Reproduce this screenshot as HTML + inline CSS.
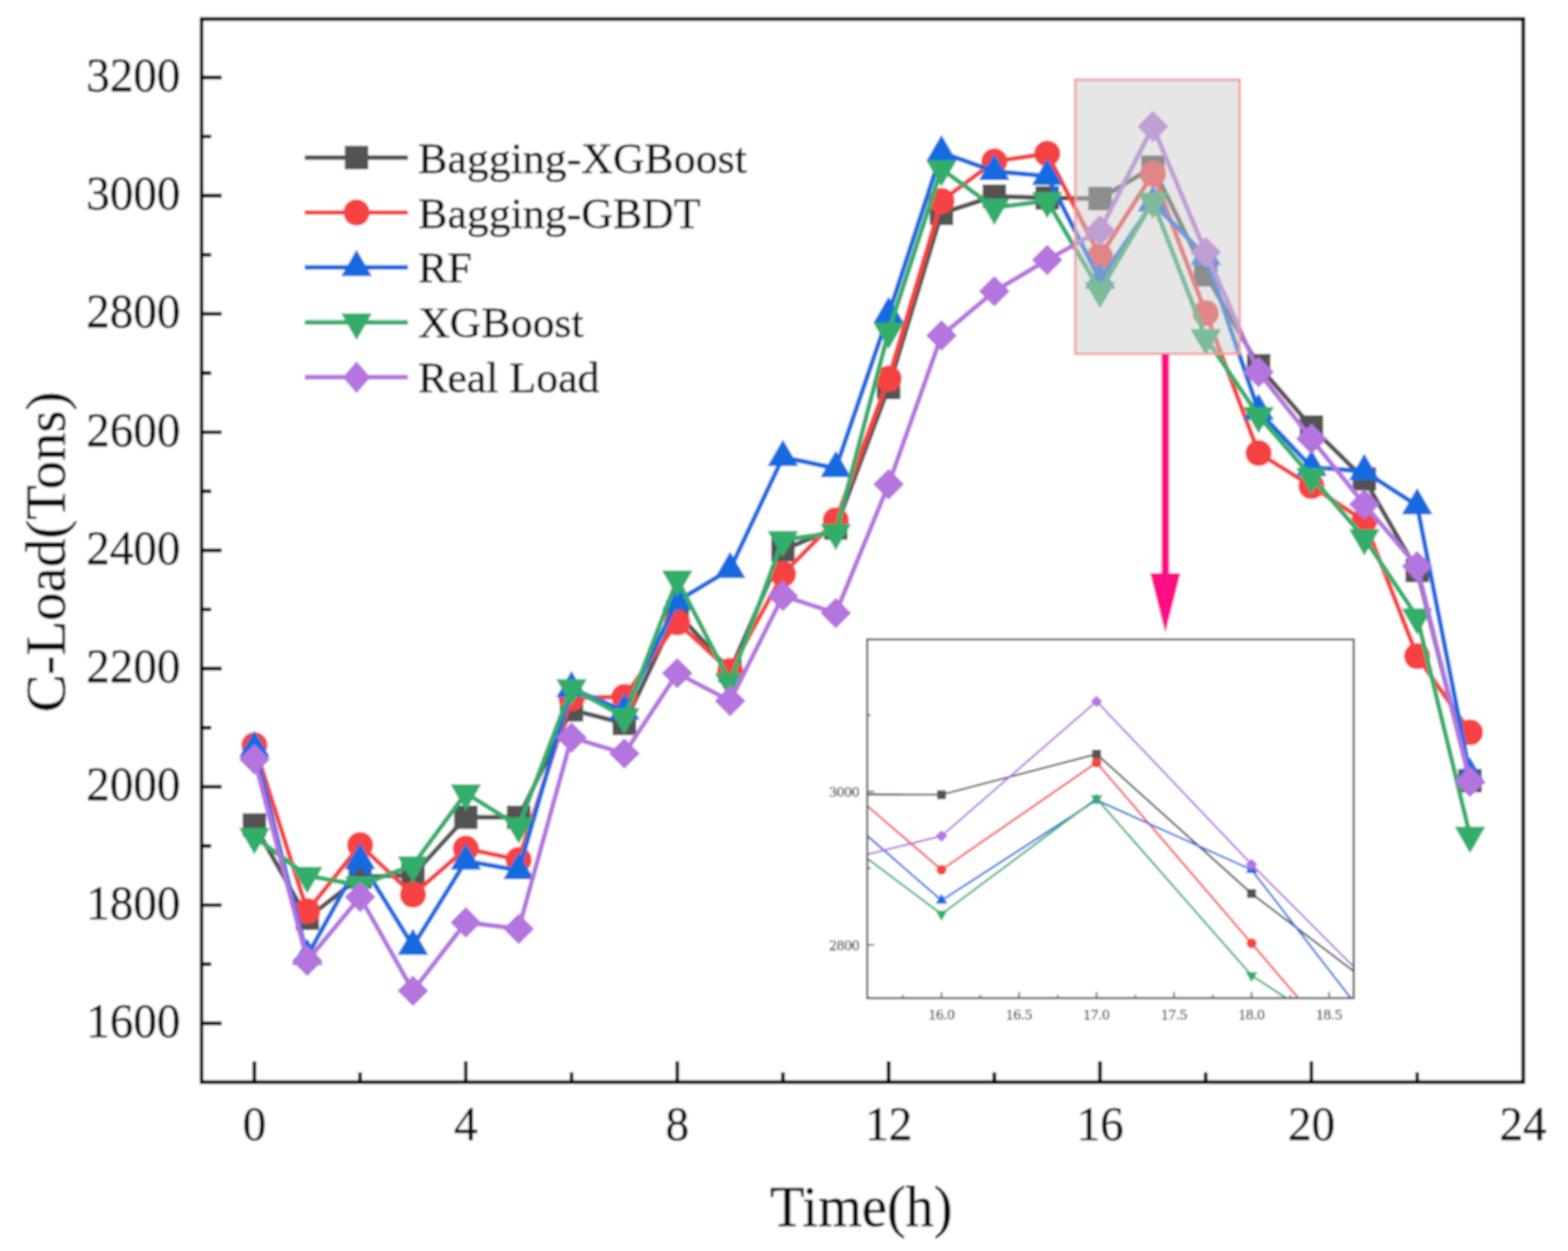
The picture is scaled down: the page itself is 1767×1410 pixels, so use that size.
<!DOCTYPE html>
<html><head><meta charset="utf-8"><title>C-Load chart</title>
<style>
html,body{margin:0;padding:0;background:#fff;}
svg{display:block;}
text{font-family:"Liberation Serif","Times New Roman",serif;fill:#0a0a0a;stroke:#0a0a0a;stroke-width:0.5px;}
</style></head><body>
<svg width="1767" height="1410" viewBox="0 0 1767 1410">
<defs>
<filter id="soft" x="0" y="0" width="100%" height="100%" filterUnits="userSpaceOnUse"><feGaussianBlur stdDeviation="0.9"/></filter>
<clipPath id="mainclip"><rect x="227.1" y="20.7" width="1489.5" height="1199.3"/></clipPath>
<clipPath id="insclip"><rect x="977.2" y="720.8" width="548.3" height="404.20000000000005"/></clipPath>
</defs>
<rect x="0" y="0" width="1767" height="1410" fill="#fff"/>
<g filter="url(#soft)">
<rect x="0" y="0" width="1767" height="1410" fill="#fff"/>

<g clip-path="url(#mainclip)">
<polyline points="286.70,929.83 346.26,1034.97 405.82,988.39 465.38,986.39 524.94,921.18 584.50,921.18 644.06,800.07 703.62,815.37 763.18,690.27 822.74,756.15 882.30,619.73 941.86,595.11 1001.42,436.73 1060.98,240.42 1120.54,221.12 1180.10,223.12 1239.66,223.79 1299.22,188.52 1358.78,309.63 1418.34,412.11 1477.90,481.32 1537.46,539.88 1597.02,643.02 1656.58,879.92" fill="none" stroke="#525252" stroke-width="5.2" stroke-linejoin="miter" stroke-miterlimit="3"/>
<rect x="273.50" y="916.63" width="26.40" height="26.40" fill="#525252"/>
<rect x="333.06" y="1021.77" width="26.40" height="26.40" fill="#525252"/>
<rect x="392.62" y="975.19" width="26.40" height="26.40" fill="#525252"/>
<rect x="452.18" y="973.19" width="26.40" height="26.40" fill="#525252"/>
<rect x="511.74" y="907.98" width="26.40" height="26.40" fill="#525252"/>
<rect x="571.30" y="907.98" width="26.40" height="26.40" fill="#525252"/>
<rect x="630.86" y="786.87" width="26.40" height="26.40" fill="#525252"/>
<rect x="690.42" y="802.17" width="26.40" height="26.40" fill="#525252"/>
<rect x="749.98" y="677.07" width="26.40" height="26.40" fill="#525252"/>
<rect x="809.54" y="742.95" width="26.40" height="26.40" fill="#525252"/>
<rect x="869.10" y="606.53" width="26.40" height="26.40" fill="#525252"/>
<rect x="928.66" y="581.91" width="26.40" height="26.40" fill="#525252"/>
<rect x="988.22" y="423.53" width="26.40" height="26.40" fill="#525252"/>
<rect x="1047.78" y="227.22" width="26.40" height="26.40" fill="#525252"/>
<rect x="1107.34" y="207.93" width="26.40" height="26.40" fill="#525252"/>
<rect x="1166.90" y="209.92" width="26.40" height="26.40" fill="#525252"/>
<rect x="1226.46" y="210.59" width="26.40" height="26.40" fill="#525252"/>
<rect x="1286.02" y="175.32" width="26.40" height="26.40" fill="#525252"/>
<rect x="1345.58" y="296.43" width="26.40" height="26.40" fill="#525252"/>
<rect x="1405.14" y="398.91" width="26.40" height="26.40" fill="#525252"/>
<rect x="1464.70" y="468.12" width="26.40" height="26.40" fill="#525252"/>
<rect x="1524.26" y="526.68" width="26.40" height="26.40" fill="#525252"/>
<rect x="1583.82" y="629.82" width="26.40" height="26.40" fill="#525252"/>
<rect x="1643.38" y="866.72" width="26.40" height="26.40" fill="#525252"/>
<polyline points="286.70,839.99 346.26,1026.98 405.82,952.45 465.38,1008.35 524.94,956.45 584.50,969.09 644.06,786.76 703.62,785.43 763.18,701.58 822.74,756.15 882.30,647.01 941.86,586.46 1001.42,426.75 1060.98,226.45 1120.54,181.86 1180.10,173.21 1239.66,289.00 1299.22,195.84 1358.78,352.88 1418.34,510.60 1477.90,547.86 1537.46,587.12 1597.02,739.51 1656.58,825.35" fill="none" stroke="#f64343" stroke-width="5.2" stroke-linejoin="miter" stroke-miterlimit="3"/>
<circle cx="286.70" cy="839.99" r="14.70" fill="#f64343"/>
<circle cx="346.26" cy="1026.98" r="14.70" fill="#f64343"/>
<circle cx="405.82" cy="952.45" r="14.70" fill="#f64343"/>
<circle cx="465.38" cy="1008.35" r="14.70" fill="#f64343"/>
<circle cx="524.94" cy="956.45" r="14.70" fill="#f64343"/>
<circle cx="584.50" cy="969.09" r="14.70" fill="#f64343"/>
<circle cx="644.06" cy="786.76" r="14.70" fill="#f64343"/>
<circle cx="703.62" cy="785.43" r="14.70" fill="#f64343"/>
<circle cx="763.18" cy="701.58" r="14.70" fill="#f64343"/>
<circle cx="822.74" cy="756.15" r="14.70" fill="#f64343"/>
<circle cx="882.30" cy="647.01" r="14.70" fill="#f64343"/>
<circle cx="941.86" cy="586.46" r="14.70" fill="#f64343"/>
<circle cx="1001.42" cy="426.75" r="14.70" fill="#f64343"/>
<circle cx="1060.98" cy="226.45" r="14.70" fill="#f64343"/>
<circle cx="1120.54" cy="181.86" r="14.70" fill="#f64343"/>
<circle cx="1180.10" cy="173.21" r="14.70" fill="#f64343"/>
<circle cx="1239.66" cy="289.00" r="14.70" fill="#f64343"/>
<circle cx="1299.22" cy="195.84" r="14.70" fill="#f64343"/>
<circle cx="1358.78" cy="352.88" r="14.70" fill="#f64343"/>
<circle cx="1418.34" cy="510.60" r="14.70" fill="#f64343"/>
<circle cx="1477.90" cy="547.86" r="14.70" fill="#f64343"/>
<circle cx="1537.46" cy="587.12" r="14.70" fill="#f64343"/>
<circle cx="1597.02" cy="739.51" r="14.70" fill="#f64343"/>
<circle cx="1656.58" cy="825.35" r="14.70" fill="#f64343"/>
<polyline points="286.70,843.32 346.26,1077.56 405.82,969.76 465.38,1066.25 524.94,970.42 584.50,981.07 644.06,776.11 703.62,801.40 763.18,677.62 822.74,641.69 882.30,515.25 941.86,527.90 1001.42,354.21 1060.98,171.88 1120.54,193.18 1180.10,198.50 1239.66,315.62 1299.22,228.44 1358.78,289.00 1418.34,463.35 1477.90,526.57 1537.46,531.22 1597.02,569.82 1656.58,873.27" fill="none" stroke="#186be0" stroke-width="5.2" stroke-linejoin="miter" stroke-miterlimit="3"/>
<polygon points="286.70,823.45 303.95,853.25 269.45,853.25" fill="#186be0"/>
<polygon points="346.26,1057.69 363.51,1087.49 329.01,1087.49" fill="#186be0"/>
<polygon points="405.82,949.89 423.07,979.69 388.57,979.69" fill="#186be0"/>
<polygon points="465.38,1046.38 482.63,1076.18 448.13,1076.18" fill="#186be0"/>
<polygon points="524.94,950.56 542.19,980.36 507.69,980.36" fill="#186be0"/>
<polygon points="584.50,961.20 601.75,991.00 567.25,991.00" fill="#186be0"/>
<polygon points="644.06,756.24 661.31,786.04 626.81,786.04" fill="#186be0"/>
<polygon points="703.62,781.53 720.87,811.33 686.37,811.33" fill="#186be0"/>
<polygon points="763.18,657.76 780.43,687.56 745.93,687.56" fill="#186be0"/>
<polygon points="822.74,621.82 839.99,651.62 805.49,651.62" fill="#186be0"/>
<polygon points="882.30,495.39 899.55,525.19 865.05,525.19" fill="#186be0"/>
<polygon points="941.86,508.03 959.11,537.83 924.61,537.83" fill="#186be0"/>
<polygon points="1001.42,334.35 1018.67,364.15 984.17,364.15" fill="#186be0"/>
<polygon points="1060.98,152.02 1078.23,181.82 1043.73,181.82" fill="#186be0"/>
<polygon points="1120.54,173.31 1137.79,203.11 1103.29,203.11" fill="#186be0"/>
<polygon points="1180.10,178.63 1197.35,208.43 1162.85,208.43" fill="#186be0"/>
<polygon points="1239.66,295.75 1256.91,325.55 1222.41,325.55" fill="#186be0"/>
<polygon points="1299.22,208.58 1316.47,238.38 1281.97,238.38" fill="#186be0"/>
<polygon points="1358.78,269.13 1376.03,298.93 1341.53,298.93" fill="#186be0"/>
<polygon points="1418.34,443.48 1435.59,473.28 1401.09,473.28" fill="#186be0"/>
<polygon points="1477.90,506.70 1495.15,536.50 1460.65,536.50" fill="#186be0"/>
<polygon points="1537.46,511.36 1554.71,541.16 1520.21,541.16" fill="#186be0"/>
<polygon points="1597.02,549.95 1614.27,579.75 1579.77,579.75" fill="#186be0"/>
<polygon points="1656.58,853.40 1673.83,883.20 1639.33,883.20" fill="#186be0"/>
<polyline points="286.70,943.14 346.26,987.06 405.82,997.71 465.38,975.08 524.94,893.89 584.50,931.16 644.06,775.44 703.62,808.05 763.18,653.00 822.74,768.79 882.30,608.42 941.86,600.43 1001.42,373.51 1060.98,190.51 1120.54,233.77 1180.10,226.45 1239.66,327.60 1299.22,227.11 1358.78,380.83 1418.34,468.67 1477.90,537.21 1537.46,606.42 1597.02,695.59 1656.58,941.81" fill="none" stroke="#30ad6b" stroke-width="5.2" stroke-linejoin="miter" stroke-miterlimit="3"/>
<polygon points="269.45,933.20 303.95,933.20 286.70,963.00" fill="#30ad6b"/>
<polygon points="329.01,977.12 363.51,977.12 346.26,1006.92" fill="#30ad6b"/>
<polygon points="388.57,987.77 423.07,987.77 405.82,1017.57" fill="#30ad6b"/>
<polygon points="448.13,965.15 482.63,965.15 465.38,994.95" fill="#30ad6b"/>
<polygon points="507.69,883.96 542.19,883.96 524.94,913.76" fill="#30ad6b"/>
<polygon points="567.25,921.23 601.75,921.23 584.50,951.03" fill="#30ad6b"/>
<polygon points="626.81,765.51 661.31,765.51 644.06,795.31" fill="#30ad6b"/>
<polygon points="686.37,798.12 720.87,798.12 703.62,827.92" fill="#30ad6b"/>
<polygon points="745.93,643.07 780.43,643.07 763.18,672.87" fill="#30ad6b"/>
<polygon points="805.49,758.86 839.99,758.86 822.74,788.66" fill="#30ad6b"/>
<polygon points="865.05,598.48 899.55,598.48 882.30,628.28" fill="#30ad6b"/>
<polygon points="924.61,590.50 959.11,590.50 941.86,620.30" fill="#30ad6b"/>
<polygon points="984.17,363.58 1018.67,363.58 1001.42,393.38" fill="#30ad6b"/>
<polygon points="1043.73,180.58 1078.23,180.58 1060.98,210.38" fill="#30ad6b"/>
<polygon points="1103.29,223.84 1137.79,223.84 1120.54,253.64" fill="#30ad6b"/>
<polygon points="1162.85,216.52 1197.35,216.52 1180.10,246.32" fill="#30ad6b"/>
<polygon points="1222.41,317.66 1256.91,317.66 1239.66,347.46" fill="#30ad6b"/>
<polygon points="1281.97,217.18 1316.47,217.18 1299.22,246.98" fill="#30ad6b"/>
<polygon points="1341.53,370.90 1376.03,370.90 1358.78,400.70" fill="#30ad6b"/>
<polygon points="1401.09,458.74 1435.59,458.74 1418.34,488.54" fill="#30ad6b"/>
<polygon points="1460.65,527.28 1495.15,527.28 1477.90,557.08" fill="#30ad6b"/>
<polygon points="1520.21,596.49 1554.71,596.49 1537.46,626.29" fill="#30ad6b"/>
<polygon points="1579.77,685.66 1614.27,685.66 1597.02,715.46" fill="#30ad6b"/>
<polygon points="1639.33,931.87 1673.83,931.87 1656.58,961.67" fill="#30ad6b"/>
<polyline points="286.70,855.96 346.26,1082.88 405.82,1011.01 465.38,1116.82 524.94,1039.63 584.50,1046.95 644.06,831.34 703.62,849.31 763.18,758.81 822.74,790.08 882.30,671.63 941.86,690.93 1001.42,545.86 1060.98,378.17 1120.54,328.26 1180.10,292.99 1239.66,259.72 1299.22,142.60 1358.78,284.34 1418.34,419.43 1477.90,494.62 1537.46,568.49 1597.02,638.36 1656.58,881.25" fill="none" stroke="#b474de" stroke-width="5.2" stroke-linejoin="miter" stroke-miterlimit="3"/>
<polygon points="286.70,838.66 304.00,855.96 286.70,873.26 269.40,855.96" fill="#b474de"/>
<polygon points="346.26,1065.58 363.56,1082.88 346.26,1100.18 328.96,1082.88" fill="#b474de"/>
<polygon points="405.82,993.71 423.12,1011.01 405.82,1028.31 388.52,1011.01" fill="#b474de"/>
<polygon points="465.38,1099.52 482.68,1116.82 465.38,1134.12 448.08,1116.82" fill="#b474de"/>
<polygon points="524.94,1022.33 542.24,1039.63 524.94,1056.93 507.64,1039.63" fill="#b474de"/>
<polygon points="584.50,1029.65 601.80,1046.95 584.50,1064.25 567.20,1046.95" fill="#b474de"/>
<polygon points="644.06,814.04 661.36,831.34 644.06,848.64 626.76,831.34" fill="#b474de"/>
<polygon points="703.62,832.01 720.92,849.31 703.62,866.61 686.32,849.31" fill="#b474de"/>
<polygon points="763.18,741.51 780.48,758.81 763.18,776.11 745.88,758.81" fill="#b474de"/>
<polygon points="822.74,772.78 840.04,790.08 822.74,807.38 805.44,790.08" fill="#b474de"/>
<polygon points="882.30,654.33 899.60,671.63 882.30,688.93 865.00,671.63" fill="#b474de"/>
<polygon points="941.86,673.63 959.16,690.93 941.86,708.23 924.56,690.93" fill="#b474de"/>
<polygon points="1001.42,528.56 1018.72,545.86 1001.42,563.16 984.12,545.86" fill="#b474de"/>
<polygon points="1060.98,360.87 1078.28,378.17 1060.98,395.47 1043.68,378.17" fill="#b474de"/>
<polygon points="1120.54,310.96 1137.84,328.26 1120.54,345.56 1103.24,328.26" fill="#b474de"/>
<polygon points="1180.10,275.69 1197.40,292.99 1180.10,310.29 1162.80,292.99" fill="#b474de"/>
<polygon points="1239.66,242.42 1256.96,259.72 1239.66,277.02 1222.36,259.72" fill="#b474de"/>
<polygon points="1299.22,125.30 1316.52,142.60 1299.22,159.90 1281.92,142.60" fill="#b474de"/>
<polygon points="1358.78,267.04 1376.08,284.34 1358.78,301.64 1341.48,284.34" fill="#b474de"/>
<polygon points="1418.34,402.13 1435.64,419.43 1418.34,436.73 1401.04,419.43" fill="#b474de"/>
<polygon points="1477.90,477.32 1495.20,494.62 1477.90,511.92 1460.60,494.62" fill="#b474de"/>
<polygon points="1537.46,551.19 1554.76,568.49 1537.46,585.79 1520.16,568.49" fill="#b474de"/>
<polygon points="1597.02,621.06 1614.32,638.36 1597.02,655.66 1579.72,638.36" fill="#b474de"/>
<polygon points="1656.58,863.95 1673.88,881.25 1656.58,898.55 1639.28,881.25" fill="#b474de"/>
</g>
<rect x="1211.8" y="89.9" width="185.20000000000005" height="308.9" fill="#cccccc" fill-opacity="0.49" stroke="#f59a9a" stroke-width="2.6"/>
<line x1="1313.2" y1="399" x2="1313.2" y2="650" stroke="#ff0a84" stroke-width="8.5"/>
<polygon points="1296.2,646 1330.2,646 1313.2,713" fill="#ff0a84"/>
<rect x="227.1" y="21.40" width="1489.50" height="1198.30" fill="none" stroke="#000" stroke-width="4.2"/>
<line x1="227.1" y1="1153.37" x2="249.79999999999998" y2="1153.37" stroke="#000" stroke-width="4.2"/>
<text transform="translate(203.3,1168.87) scale(1,1.05)" font-size="53" text-anchor="end">1600</text>
<line x1="227.1" y1="1086.74" x2="238.1" y2="1086.74" stroke="#000" stroke-width="4.2"/>
<line x1="227.1" y1="1020.11" x2="249.79999999999998" y2="1020.11" stroke="#000" stroke-width="4.2"/>
<text transform="translate(203.3,1035.61) scale(1,1.05)" font-size="53" text-anchor="end">1800</text>
<line x1="227.1" y1="953.48" x2="238.1" y2="953.48" stroke="#000" stroke-width="4.2"/>
<line x1="227.1" y1="886.85" x2="249.79999999999998" y2="886.85" stroke="#000" stroke-width="4.2"/>
<text transform="translate(203.3,902.35) scale(1,1.05)" font-size="53" text-anchor="end">2000</text>
<line x1="227.1" y1="820.22" x2="238.1" y2="820.22" stroke="#000" stroke-width="4.2"/>
<line x1="227.1" y1="753.59" x2="249.79999999999998" y2="753.59" stroke="#000" stroke-width="4.2"/>
<text transform="translate(203.3,769.09) scale(1,1.05)" font-size="53" text-anchor="end">2200</text>
<line x1="227.1" y1="686.96" x2="238.1" y2="686.96" stroke="#000" stroke-width="4.2"/>
<line x1="227.1" y1="620.33" x2="249.79999999999998" y2="620.33" stroke="#000" stroke-width="4.2"/>
<text transform="translate(203.3,635.83) scale(1,1.05)" font-size="53" text-anchor="end">2400</text>
<line x1="227.1" y1="553.70" x2="238.1" y2="553.70" stroke="#000" stroke-width="4.2"/>
<line x1="227.1" y1="487.07" x2="249.79999999999998" y2="487.07" stroke="#000" stroke-width="4.2"/>
<text transform="translate(203.3,502.57) scale(1,1.05)" font-size="53" text-anchor="end">2600</text>
<line x1="227.1" y1="420.44" x2="238.1" y2="420.44" stroke="#000" stroke-width="4.2"/>
<line x1="227.1" y1="353.81" x2="249.79999999999998" y2="353.81" stroke="#000" stroke-width="4.2"/>
<text transform="translate(203.3,369.31) scale(1,1.05)" font-size="53" text-anchor="end">2800</text>
<line x1="227.1" y1="287.18" x2="238.1" y2="287.18" stroke="#000" stroke-width="4.2"/>
<line x1="227.1" y1="220.55" x2="249.79999999999998" y2="220.55" stroke="#000" stroke-width="4.2"/>
<text transform="translate(203.3,236.05) scale(1,1.05)" font-size="53" text-anchor="end">3000</text>
<line x1="227.1" y1="153.92" x2="238.1" y2="153.92" stroke="#000" stroke-width="4.2"/>
<line x1="227.1" y1="87.29" x2="249.79999999999998" y2="87.29" stroke="#000" stroke-width="4.2"/>
<text transform="translate(203.3,102.79) scale(1,1.05)" font-size="53" text-anchor="end">3200</text>
<line x1="286.70" y1="1219.7" x2="286.70" y2="1196.2" stroke="#000" stroke-width="4.2"/>
<line x1="405.82" y1="1219.7" x2="405.82" y2="1208.7" stroke="#000" stroke-width="4.2"/>
<line x1="524.94" y1="1219.7" x2="524.94" y2="1196.2" stroke="#000" stroke-width="4.2"/>
<line x1="644.06" y1="1219.7" x2="644.06" y2="1208.7" stroke="#000" stroke-width="4.2"/>
<line x1="763.18" y1="1219.7" x2="763.18" y2="1196.2" stroke="#000" stroke-width="4.2"/>
<line x1="882.30" y1="1219.7" x2="882.30" y2="1208.7" stroke="#000" stroke-width="4.2"/>
<line x1="1001.42" y1="1219.7" x2="1001.42" y2="1196.2" stroke="#000" stroke-width="4.2"/>
<line x1="1120.54" y1="1219.7" x2="1120.54" y2="1208.7" stroke="#000" stroke-width="4.2"/>
<line x1="1239.66" y1="1219.7" x2="1239.66" y2="1196.2" stroke="#000" stroke-width="4.2"/>
<line x1="1358.78" y1="1219.7" x2="1358.78" y2="1208.7" stroke="#000" stroke-width="4.2"/>
<line x1="1477.90" y1="1219.7" x2="1477.90" y2="1196.2" stroke="#000" stroke-width="4.2"/>
<line x1="1597.02" y1="1219.7" x2="1597.02" y2="1208.7" stroke="#000" stroke-width="4.2"/>
<text transform="translate(286.70,1284.6) scale(1,1.04)" font-size="53" text-anchor="middle">0</text>
<text transform="translate(524.94,1284.6) scale(1,1.04)" font-size="53" text-anchor="middle">4</text>
<text transform="translate(763.18,1284.6) scale(1,1.04)" font-size="53" text-anchor="middle">8</text>
<text transform="translate(1001.42,1284.6) scale(1,1.04)" font-size="53" text-anchor="middle">12</text>
<text transform="translate(1239.66,1284.6) scale(1,1.04)" font-size="53" text-anchor="middle">16</text>
<text transform="translate(1477.90,1284.6) scale(1,1.04)" font-size="53" text-anchor="middle">20</text>
<text transform="translate(1716.14,1284.6) scale(1,1.04)" font-size="53" text-anchor="middle">24</text>
<text transform="translate(970.6,1382.1) scale(1,1.04)" font-size="63.5" text-anchor="middle">Time(h)</text>
<text transform="translate(72.5,622) rotate(-90)" font-size="64" text-anchor="middle">C-Load(Tons)</text>
<line x1="343.5" y1="177.60" x2="459.6" y2="177.60" stroke="#525252" stroke-width="5.2"/>
<rect x="388.60" y="164.40" width="26.40" height="26.40" fill="#525252"/>
<text x="471.2" y="194.60" font-size="49.4">Bagging-XGBoost</text>
<line x1="343.5" y1="239.50" x2="459.6" y2="239.50" stroke="#f64343" stroke-width="5.2"/>
<circle cx="401.80" cy="239.50" r="14.70" fill="#f64343"/>
<text x="471.2" y="256.50" font-size="49.4">Bagging-GBDT</text>
<line x1="343.5" y1="301.40" x2="459.6" y2="301.40" stroke="#186be0" stroke-width="5.2"/>
<polygon points="401.80,281.53 419.05,311.33 384.55,311.33" fill="#186be0"/>
<text x="471.2" y="318.40" font-size="49.4">RF</text>
<line x1="343.5" y1="363.30" x2="459.6" y2="363.30" stroke="#30ad6b" stroke-width="5.2"/>
<polygon points="384.55,353.37 419.05,353.37 401.80,383.17" fill="#30ad6b"/>
<text x="471.2" y="380.30" font-size="49.4">XGBoost</text>
<line x1="343.5" y1="425.20" x2="459.6" y2="425.20" stroke="#b474de" stroke-width="5.2"/>
<polygon points="401.80,407.20 417.30,425.20 401.80,443.20 386.30,425.20" fill="#b474de"/>
<text x="471.2" y="442.20" font-size="49.4">Real Load</text>
<rect x="977.2" y="720.8" width="548.3" height="404.20000000000005" fill="#fff" stroke="none"/>
<g clip-path="url(#insclip)">
<polyline points="711.60,892.30 886.30,894.89 1061.00,895.75 1235.70,850.01 1410.40,1007.08 1585.10,1139.98 1759.80,1229.73" fill="none" stroke="#525252" stroke-width="2.2"/>
<rect x="881.28" y="889.87" width="10.03" height="10.03" fill="#525252"/>
<rect x="1055.98" y="890.74" width="10.03" height="10.03" fill="#525252"/>
<rect x="1230.68" y="845.00" width="10.03" height="10.03" fill="#525252"/>
<rect x="1405.38" y="1002.06" width="10.03" height="10.03" fill="#525252"/>
<rect x="1580.08" y="1134.96" width="10.03" height="10.03" fill="#525252"/>
<polyline points="711.60,841.38 886.30,830.16 1061.00,980.33 1235.70,859.51 1410.40,1063.17 1585.10,1267.70 1759.80,1316.03" fill="none" stroke="#f64343" stroke-width="2.2"/>
<circle cx="886.30" cy="830.16" r="5.59" fill="#f64343"/>
<circle cx="1061.00" cy="980.33" r="5.59" fill="#f64343"/>
<circle cx="1235.70" cy="859.51" r="5.59" fill="#f64343"/>
<circle cx="1410.40" cy="1063.17" r="5.59" fill="#f64343"/>
<circle cx="1585.10" cy="1267.70" r="5.59" fill="#f64343"/>
<polyline points="711.60,856.05 886.30,862.96 1061.00,1014.85 1235.70,901.79 1410.40,980.33 1585.10,1206.43 1759.80,1288.42" fill="none" stroke="#186be0" stroke-width="2.2"/>
<polygon points="886.30,855.41 892.85,866.73 879.75,866.73" fill="#186be0"/>
<polygon points="1061.00,1007.30 1067.56,1018.62 1054.44,1018.62" fill="#186be0"/>
<polygon points="1235.70,894.24 1242.26,905.57 1229.14,905.57" fill="#186be0"/>
<polygon points="1410.40,972.78 1416.96,984.10 1403.85,984.10" fill="#186be0"/>
<polygon points="1585.10,1198.88 1591.65,1210.21 1578.54,1210.21" fill="#186be0"/>
<polyline points="711.60,908.70 886.30,899.20 1061.00,1030.38 1235.70,900.07 1410.40,1099.42 1585.10,1213.34 1759.80,1302.22" fill="none" stroke="#30ad6b" stroke-width="2.2"/>
<polygon points="879.75,895.43 892.85,895.43 886.30,906.75" fill="#30ad6b"/>
<polygon points="1054.44,1026.61 1067.56,1026.61 1061.00,1037.93" fill="#30ad6b"/>
<polygon points="1229.14,896.29 1242.26,896.29 1235.70,907.62" fill="#30ad6b"/>
<polygon points="1403.85,1095.65 1416.96,1095.65 1410.40,1106.97" fill="#30ad6b"/>
<polygon points="1578.54,1209.56 1591.65,1209.56 1585.10,1220.89" fill="#30ad6b"/>
<polyline points="711.60,1031.24 886.30,985.50 1061.00,942.35 1235.70,790.47 1410.40,974.28 1585.10,1149.47 1759.80,1246.99" fill="none" stroke="#b474de" stroke-width="2.2"/>
<polygon points="886.30,978.93 892.87,985.50 886.30,992.08 879.73,985.50" fill="#b474de"/>
<polygon points="1061.00,935.78 1067.57,942.35 1061.00,948.93 1054.43,942.35" fill="#b474de"/>
<polygon points="1235.70,783.89 1242.27,790.47 1235.70,797.04 1229.13,790.47" fill="#b474de"/>
<polygon points="1410.40,967.71 1416.97,974.28 1410.40,980.86 1403.83,974.28" fill="#b474de"/>
<polygon points="1585.10,1142.90 1591.67,1149.47 1585.10,1156.05 1578.53,1149.47" fill="#b474de"/>
</g>
<rect x="977.2" y="720.8" width="548.3" height="404.20000000000005" fill="none" stroke="#5a5a5a" stroke-width="2.4"/>
<line x1="1017.33" y1="1125.0" x2="1017.33" y2="1121.5" stroke="#5a5a5a" stroke-width="1.8"/>
<line x1="1061.00" y1="1125.0" x2="1061.00" y2="1118.0" stroke="#5a5a5a" stroke-width="1.8"/>
<text x="1061.00" y="1148.5" font-size="17" text-anchor="middle" style="fill:#333;stroke:#333;stroke-width:0.25px">16.0</text>
<line x1="1104.67" y1="1125.0" x2="1104.67" y2="1121.5" stroke="#5a5a5a" stroke-width="1.8"/>
<line x1="1148.35" y1="1125.0" x2="1148.35" y2="1118.0" stroke="#5a5a5a" stroke-width="1.8"/>
<text x="1148.35" y="1148.5" font-size="17" text-anchor="middle" style="fill:#333;stroke:#333;stroke-width:0.25px">16.5</text>
<line x1="1192.03" y1="1125.0" x2="1192.03" y2="1121.5" stroke="#5a5a5a" stroke-width="1.8"/>
<line x1="1235.70" y1="1125.0" x2="1235.70" y2="1118.0" stroke="#5a5a5a" stroke-width="1.8"/>
<text x="1235.70" y="1148.5" font-size="17" text-anchor="middle" style="fill:#333;stroke:#333;stroke-width:0.25px">17.0</text>
<line x1="1279.38" y1="1125.0" x2="1279.38" y2="1121.5" stroke="#5a5a5a" stroke-width="1.8"/>
<line x1="1323.05" y1="1125.0" x2="1323.05" y2="1118.0" stroke="#5a5a5a" stroke-width="1.8"/>
<text x="1323.05" y="1148.5" font-size="17" text-anchor="middle" style="fill:#333;stroke:#333;stroke-width:0.25px">17.5</text>
<line x1="1366.72" y1="1125.0" x2="1366.72" y2="1121.5" stroke="#5a5a5a" stroke-width="1.8"/>
<line x1="1410.40" y1="1125.0" x2="1410.40" y2="1118.0" stroke="#5a5a5a" stroke-width="1.8"/>
<text x="1410.40" y="1148.5" font-size="17" text-anchor="middle" style="fill:#333;stroke:#333;stroke-width:0.25px">18.0</text>
<line x1="1454.08" y1="1125.0" x2="1454.08" y2="1121.5" stroke="#5a5a5a" stroke-width="1.8"/>
<line x1="1497.75" y1="1125.0" x2="1497.75" y2="1118.0" stroke="#5a5a5a" stroke-width="1.8"/>
<text x="1497.75" y="1148.5" font-size="17" text-anchor="middle" style="fill:#333;stroke:#333;stroke-width:0.25px">18.5</text>
<line x1="977.2" y1="1064.90" x2="985.2" y2="1064.90" stroke="#5a5a5a" stroke-width="1.8"/>
<text x="968.5" y="1070.90" font-size="17" text-anchor="end" style="fill:#333;stroke:#333;stroke-width:0.25px">2800</text>
<line x1="977.2" y1="978.60" x2="981.2" y2="978.60" stroke="#5a5a5a" stroke-width="1.8"/>
<line x1="977.2" y1="892.30" x2="985.2" y2="892.30" stroke="#5a5a5a" stroke-width="1.8"/>
<text x="968.5" y="898.30" font-size="17" text-anchor="end" style="fill:#333;stroke:#333;stroke-width:0.25px">3000</text>
<line x1="977.2" y1="806.00" x2="981.2" y2="806.00" stroke="#5a5a5a" stroke-width="1.8"/>
</g>
</svg>
</body></html>
